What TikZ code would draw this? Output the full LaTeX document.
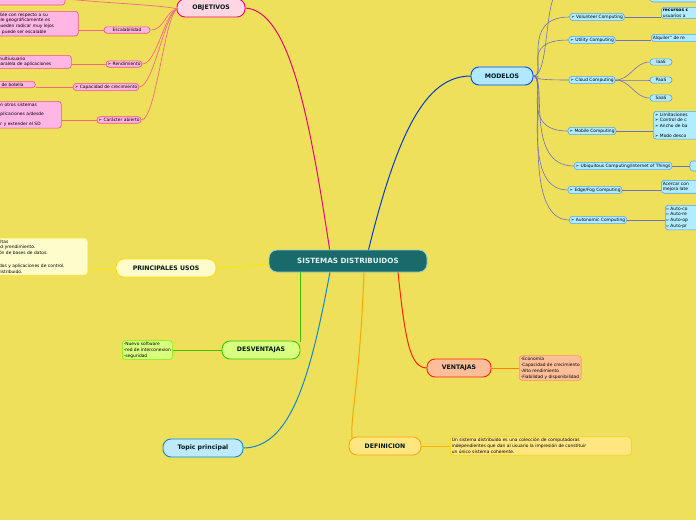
\documentclass[tikz,border=0pt]{standalone}
\usepackage{fontspec}
\setmainfont{DejaVu Sans}
\usetikzlibrary{calc}
\newcommand{\ar}{➢\ }
\begin{document}
\begin{tikzpicture}[x=1pt,y=-1pt,
 base/.style={draw,rounded corners=3pt,inner sep=1.5pt,font=\fontsize{4.4}{5.8}\selectfont,line width=0.6pt},
 main/.style={draw,rounded corners=8pt,minimum height=18pt,font=\fontsize{6.2}{7}\selectfont\bfseries,text=black!80!teal,line width=0.9pt},
 pk/.style={base,fill=pink!70!magenta!60,draw=magenta!60!red!70},
 bl/.style={base,fill=blue!25!cyan!30,draw=blue!50!cyan!70},
 det/.style={align=left,anchor=north west},
 cpk/.style={draw=magenta!50!red!60,line width=0.7pt},
 cbl/.style={draw=blue!40!gray!80,line width=0.6pt}]
\useasboundingbox (0,0) rectangle (696,520);
\clip (0,0) rectangle (696,520);
\definecolor{bgc}{HTML}{EEE05A}
\fill[bgc] (0,0) rectangle (696,520);

% connectors main
\draw[magenta!80!red,line width=1pt] (330,252) .. controls (310,120) and (290,10) .. (245,8);
\draw[blue!70!cyan!80!black,line width=1pt] (368,252) .. controls (400,120) and (430,76) .. (471,76);
\draw[yellow!90!orange,line width=1pt] (270,264) .. controls (250,266) .. (217,268);
\draw[green!50!olive,line width=1pt] (300,272) -- (300,342);
\draw[red!70!orange,line width=1pt] (398,272) .. controls (405,340) and (410,368) .. (427,368);
\draw[orange!70!yellow,line width=1pt] (364,272) .. controls (360,380) and (350,420) .. (352,438);
\draw[cyan!70!blue,line width=1pt] (330,272) .. controls (310,380) and (290,448) .. (243,448);

% central
\node[draw=white!60!teal,fill=teal!70!black!90,rounded corners=8pt,minimum width=158pt,minimum height=22pt,text=white!90!teal,font=\fontsize{7.2}{9}\selectfont\bfseries,line width=0.8pt] (c) at (348,261) {SISTEMAS DISTRIBUIDOS};

% OBJETIVOS
\node[main,fill=pink!90!magenta!50,draw=magenta!80!red,minimum width=68pt] (obj) at (211,8) {OBJETIVOS};
\node[pk,minimum width=46pt] (esc) at (127,30) {Escalabilidad};
\node[pk] (ren) at (124,64) {\ar Rendimiento};
\node[pk] (cap) at (106,87) {\ar Capacidad de crecimiento};
\node[pk] (car) at (119,120) {\ar Carácter abierto};
\node[pk,minimum width=70pt,minimum height=12pt] (o0) at (30,-1) {};
\node[pk,det,text width=79pt] (escd) at (-4,11) {able con respecto a su\\ble geográficamente es\\pueden radicar muy lejos\\a puede ser escalable\\[2pt]};
\node[pk,det,text width=72pt] (rend) at (-4,55) {multiusuario\\ paralela de aplicaciones};
\node[pk,det,text width=36pt] (capd) at (-4,81) {s de botella};
\node[pk,det,text width=62pt] (card) at (-4,101) {on otros sistemas\\[4pt]aplicaciones a/desde\\[4pt]ar y extender el SD\\[1pt]};
\foreach \n in {esc,ren,cap,car} \draw[cpk] (\n.east) .. controls +(15,0) and (165,10) .. (178,9);
\draw[cpk] (o0.east) .. controls (120,4) and (160,5) .. (178,9);
\draw[cpk] (escd.east|-esc) -- (esc.west);
\draw[cpk] (rend.east|-ren) -- (ren.west);
\draw[cpk] (capd.east|-cap) -- (cap.west);
\draw[cpk] (card.east|-car) -- (car.west);

% MODELOS
\node[main,fill=blue!30!cyan!30,draw=blue!70!cyan,minimum width=62pt] (mod) at (502,76) {MODELOS};
\node[bl] (vol) at (597,17) {\ar Volunteer Computing};
\node[bl] (uti) at (592,40) {\ar Utility Computing};
\node[bl] (clo) at (592,80) {\ar Cloud Computing};
\node[bl] (mob) at (592,131) {\ar Mobile Computing};
\node[bl] (ubi) at (623,166) {\ar Ubiquitous Computing/Internet of Things};
\node[bl] (edg) at (595,190) {\ar Edge/Fog Computing};
\node[bl] (aut) at (598,220) {\ar Autonomic Computing};
\node[bl,det,text width=50pt] (vold) at (661,7) {\textbf{recursos c}\\usuarios a};
\node[bl,det,text width=50pt] (utid) at (651,34) {Alquiler" de re};
\node[bl,minimum width=22pt] (iaas) at (661,62) {IaaS};
\node[bl,minimum width=22pt] (paas) at (661,80) {PaaS};
\node[bl,minimum width=22pt] (saas) at (661,98) {SaaS};
\node[bl,det,text width=50pt] (mobd) at (653,111) {\ar Limitaciones\\\ar Control de c\\\ar Ancho de ba\\[4pt]\ar Modo desco};
\node[bl,minimum width=20pt,minimum height=10pt] (ubid) at (700,166) {};
\node[bl,det,text width=50pt] (edgd) at (661,180) {Acercar con\\mejora late};
\node[bl,det,text width=40pt] (autd) at (665,205) {▹ Auto-co\\▹ Auto-re\\▹ Auto-op\\▹ Auto-pr};
\node[bl,minimum width=60pt,minimum height=10pt] (m0) at (680,-3) {};
\foreach \n in {vol,uti,clo,mob,ubi,edg,aut} \draw[cbl] (mod.east) .. controls (548,76) and ($(\n.west)+(-50,0)$) .. (\n.west);
\draw[cbl] (mod.east) .. controls (548,76) and (545,10) .. (555,-5);
\draw[cbl] (vol.east) -- (vold.west|-vol);
\draw[cbl] (uti.east) -- (utid.west|-uti);
\foreach \n in {iaas,paas,saas} \draw[cbl] (clo.east) .. controls +(15,0) and +(-15,0) .. (\n.west);
\draw[cbl] (mob.east) -- (mobd.west|-mob);
\draw[cbl] (ubi.east) -- (ubid.west);
\draw[cbl] (edg.east) -- (edgd.west|-edg);
\draw[cbl] (aut.east) -- (autd.west|-aut);

% PRINCIPALES USOS
\node[main,fill=yellow!20!white,draw=yellow!80!orange,minimum width=100pt] (uso) at (166,268) {PRINCIPALES USOS};
\node[base,det,fill=yellow!20!white,draw=yellow!60!white,text width=88pt] (usod) at (-4,238) {altas\\ad yrendimiento.\\ión de bases de datos.\\[7pt]idos y aplicaciones de control.\\ distribuido.\\[3pt]};
\draw[yellow!90!orange,line width=0.7pt] (usod.east|-uso) -- (uso.west);

% DESVENTAJAS
\node[main,fill=green!30!yellow!50,draw=green!60!olive,minimum width=78pt] (des) at (261,350) {DESVENTAJAS};
\node[base,align=left,fill=green!30!yellow!50,draw=green!60!yellow,anchor=west] (desd) at (122,350) {-Nuevo software\\-red de interconexion\\-seguridad};
\draw[green!50!olive,line width=0.7pt] (desd.east) -- (des.west);

% VENTAJAS
\node[main,fill=red!30!orange!40!white,draw=red!70!orange,minimum width=64pt] (ven) at (459,368) {VENTAJAS};
\node[base,align=left,fill=red!25!orange!40!white,draw=red!40!orange!60,anchor=west] (vend) at (519,368) {-Economía\\-Capacidad de crecimiento\\-Alto rendimiento\\-Fiabilidad y disponibilidad};
\draw[orange,line width=0.7pt] (ven.east) -- (vend.west);

% DEFINICION
\node[main,fill=orange!40!yellow!50,draw=orange!70!yellow,minimum width=72pt] (def) at (385,446) {DEFINICION};
\node[base,align=left,fill=orange!40!yellow!50,draw=orange!40!yellow,anchor=west,text width=178pt] (defd) at (450,446) {Un sistema distribuido es una colección de computadoras\\independientes que dan al usuario la impresión de constituir\\un único sistema coherente.};
\draw[orange!60!yellow,line width=0.7pt] (def.east) -- (defd.west);

% Topic principal
\node[main,fill=cyan!25!white,draw=cyan!70!blue,minimum width=80pt] (top) at (203,448) {Topic principal};
\end{tikzpicture}
\end{document}
